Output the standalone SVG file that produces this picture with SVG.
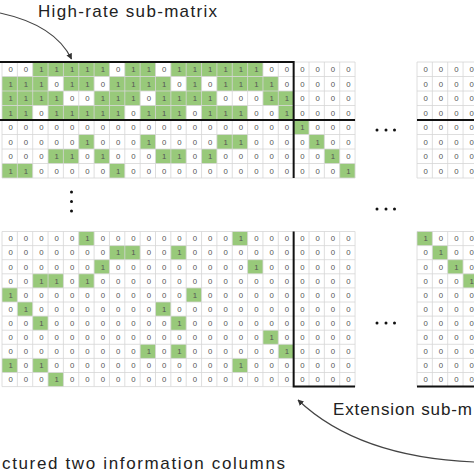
<svg xmlns="http://www.w3.org/2000/svg" width="474" height="474" viewBox="0 0 474 474">
<style>
.bg{fill:#ffffff}
.grid{fill:none;stroke:#d6d6d6;stroke-width:0.8}
.g{fill:#98c97a}
.thick{fill:none;stroke:#111;stroke-width:2}
.c{font-family:"Liberation Sans",Arial,sans-serif;font-size:7.8px;fill:#555;text-anchor:middle}
.lbl{font-family:"Liberation Sans",Arial,sans-serif;font-size:17px;fill:#222}
.arr{fill:none;stroke:#444;stroke-width:1.2}
.dot{fill:#111}
</style>
<defs>
<marker id="ah" viewBox="0 0 10 10" refX="9" refY="5" markerWidth="6" markerHeight="6" orient="auto" markerUnits="userSpaceOnUse">
<path d="M0 0L10 5L0 10z" fill="#333"/>
</marker>
</defs>
<rect class="bg" x="0" y="0" width="474" height="474"/>

<g id="green-cells">
<rect class="g" x="32.7" y="62" width="76.75" height="14.5"/>
<rect class="g" x="124.8" y="62" width="30.7" height="14.5"/>
<rect class="g" x="170.85" y="62" width="92.1" height="14.5"/>
<rect class="g" x="2" y="76.5" width="46.05" height="14.5"/>
<rect class="g" x="63.4" y="76.5" width="30.7" height="14.5"/>
<rect class="g" x="109.45" y="76.5" width="61.4" height="14.5"/>
<rect class="g" x="186.2" y="76.5" width="15.35" height="14.5"/>
<rect class="g" x="216.9" y="76.5" width="61.4" height="14.5"/>
<rect class="g" x="2" y="91" width="61.4" height="14.5"/>
<rect class="g" x="94.1" y="91" width="46.05" height="14.5"/>
<rect class="g" x="155.5" y="91" width="61.4" height="14.5"/>
<rect class="g" x="262.95" y="91" width="30.7" height="14.5"/>
<rect class="g" x="2" y="105.5" width="30.7" height="14.5"/>
<rect class="g" x="48.05" y="105.5" width="76.75" height="14.5"/>
<rect class="g" x="140.15" y="105.5" width="46.05" height="14.5"/>
<rect class="g" x="201.55" y="105.5" width="46.05" height="14.5"/>
<rect class="g" x="278.3" y="105.5" width="15.35" height="14.5"/>
<rect class="g" x="293.65" y="120" width="15.35" height="14.5"/>
<rect class="g" x="78.75" y="134.5" width="15.35" height="14.5"/>
<rect class="g" x="140.15" y="134.5" width="15.35" height="14.5"/>
<rect class="g" x="216.9" y="134.5" width="30.7" height="14.5"/>
<rect class="g" x="309" y="134.5" width="15.35" height="14.5"/>
<rect class="g" x="48.05" y="149" width="30.7" height="14.5"/>
<rect class="g" x="94.1" y="149" width="15.35" height="14.5"/>
<rect class="g" x="155.5" y="149" width="30.7" height="14.5"/>
<rect class="g" x="201.55" y="149" width="15.35" height="14.5"/>
<rect class="g" x="324.35" y="149" width="15.35" height="14.5"/>
<rect class="g" x="2" y="163.5" width="30.7" height="14.5"/>
<rect class="g" x="109.45" y="163.5" width="15.35" height="14.5"/>
<rect class="g" x="339.7" y="163.5" width="15.35" height="14.5"/>

<rect class="g" x="78.75" y="231.5" width="15.35" height="14.1"/>
<rect class="g" x="232.25" y="231.5" width="15.35" height="14.1"/>
<rect class="g" x="417" y="231.5" width="15.35" height="14.1"/>
<rect class="g" x="109.45" y="245.6" width="30.7" height="14.1"/>
<rect class="g" x="170.85" y="245.6" width="15.35" height="14.1"/>
<rect class="g" x="432.35" y="245.6" width="15.35" height="14.1"/>
<rect class="g" x="94.1" y="259.7" width="15.35" height="14.1"/>
<rect class="g" x="247.6" y="259.7" width="15.35" height="14.1"/>
<rect class="g" x="447.7" y="259.7" width="15.35" height="14.1"/>
<rect class="g" x="32.7" y="273.8" width="30.7" height="14.1"/>
<rect class="g" x="78.75" y="273.8" width="15.35" height="14.1"/>
<rect class="g" x="463.05" y="273.8" width="15.35" height="14.1"/>
<rect class="g" x="2" y="287.9" width="15.35" height="14.1"/>
<rect class="g" x="186.2" y="287.9" width="15.35" height="14.1"/>
<rect class="g" x="17.35" y="302" width="15.35" height="14.1"/>
<rect class="g" x="155.5" y="302" width="15.35" height="14.1"/>
<rect class="g" x="32.7" y="316.1" width="15.35" height="14.1"/>
<rect class="g" x="170.85" y="316.1" width="15.35" height="14.1"/>
<rect class="g" x="262.95" y="330.2" width="15.35" height="14.1"/>
<rect class="g" x="140.15" y="344.3" width="15.35" height="14.1"/>
<rect class="g" x="170.85" y="344.3" width="15.35" height="14.1"/>
<rect class="g" x="278.3" y="344.3" width="15.35" height="14.1"/>
<rect class="g" x="2" y="358.4" width="15.35" height="14.1"/>
<rect class="g" x="32.7" y="358.4" width="15.35" height="14.1"/>
<rect class="g" x="232.25" y="358.4" width="15.35" height="14.1"/>
<rect class="g" x="48.05" y="372.5" width="15.35" height="14.1"/>
</g>

<g id="grid-lines">
<path class="grid" d="M2 62v116M17.35 62v116M32.7 62v116M48.05 62v116M63.4 62v116M78.75 62v116M94.1 62v116M109.45 62v116M124.8 62v116M140.15 62v116M155.5 62v116M170.85 62v116M186.2 62v116M201.55 62v116M216.9 62v116M232.25 62v116M247.6 62v116M262.95 62v116M278.3 62v116M293.65 62v116M309 62v116M324.35 62v116M339.7 62v116M355.05 62v116M2 62H355.05M2 76.5H355.05M2 91H355.05M2 105.5H355.05M2 120H355.05M2 134.5H355.05M2 149H355.05M2 163.5H355.05M2 178H355.05"/>
<path class="grid" d="M417 62v116M432.35 62v116M447.7 62v116M463.05 62v116M417 62H474M417 76.5H474M417 91H474M417 105.5H474M417 120H474M417 134.5H474M417 149H474M417 163.5H474M417 178H474"/>
<path class="grid" d="M2 231.5v155.1M17.35 231.5v155.1M32.7 231.5v155.1M48.05 231.5v155.1M63.4 231.5v155.1M78.75 231.5v155.1M94.1 231.5v155.1M109.45 231.5v155.1M124.8 231.5v155.1M140.15 231.5v155.1M155.5 231.5v155.1M170.85 231.5v155.1M186.2 231.5v155.1M201.55 231.5v155.1M216.9 231.5v155.1M232.25 231.5v155.1M247.6 231.5v155.1M262.95 231.5v155.1M278.3 231.5v155.1M293.65 231.5v155.1M309 231.5v155.1M324.35 231.5v155.1M339.7 231.5v155.1M355.05 231.5v155.1M2 231.5H355.05M2 245.6H355.05M2 259.7H355.05M2 273.8H355.05M2 287.9H355.05M2 302H355.05M2 316.1H355.05M2 330.2H355.05M2 344.3H355.05M2 358.4H355.05M2 372.5H355.05M2 386.6H355.05"/>
<path class="grid" d="M417 231.5v155.1M432.35 231.5v155.1M447.7 231.5v155.1M463.05 231.5v155.1M417 231.5H474M417 245.6H474M417 259.7H474M417 273.8H474M417 287.9H474M417 302H474M417 316.1H474M417 330.2H474M417 344.3H474M417 358.4H474M417 372.5H474M417 386.6H474"/>
</g>

<g id="cell-values">
<text class="c" x="10.7 26 41.4 56.7 72.1 87.4 102.8 118.1 133.5 148.8 164.2 179.5 194.9 210.2 225.6 240.9 256.3 271.6 287 302.3 317.7 333 348.4" y="72">00111110110111111000000</text>
<text class="c" x="10.7 26 41.4 56.7 72.1 87.4 102.8 118.1 133.5 148.8 164.2 179.5 194.9 210.2 225.6 240.9 256.3 271.6 287 302.3 317.7 333 348.4" y="86.5">11101101111010111100000</text>
<text class="c" x="10.7 26 41.4 56.7 72.1 87.4 102.8 118.1 133.5 148.8 164.2 179.5 194.9 210.2 225.6 240.9 256.3 271.6 287 302.3 317.7 333 348.4" y="101">11110011101111000110000</text>
<text class="c" x="10.7 26 41.4 56.7 72.1 87.4 102.8 118.1 133.5 148.8 164.2 179.5 194.9 210.2 225.6 240.9 256.3 271.6 287 302.3 317.7 333 348.4" y="115.5">11011111011101110010000</text>
<text class="c" x="10.7 26 41.4 56.7 72.1 87.4 102.8 118.1 133.5 148.8 164.2 179.5 194.9 210.2 225.6 240.9 256.3 271.6 287 302.3 317.7 333 348.4" y="130">00000000000000000001000</text>
<text class="c" x="10.7 26 41.4 56.7 72.1 87.4 102.8 118.1 133.5 148.8 164.2 179.5 194.9 210.2 225.6 240.9 256.3 271.6 287 302.3 317.7 333 348.4" y="144.5">00000100010000110000100</text>
<text class="c" x="10.7 26 41.4 56.7 72.1 87.4 102.8 118.1 133.5 148.8 164.2 179.5 194.9 210.2 225.6 240.9 256.3 271.6 287 302.3 317.7 333 348.4" y="159">00011010001101000000010</text>
<text class="c" x="10.7 26 41.4 56.7 72.1 87.4 102.8 118.1 133.5 148.8 164.2 179.5 194.9 210.2 225.6 240.9 256.3 271.6 287 302.3 317.7 333 348.4" y="173.5">11000001000000000000001</text>

<text class="c" x="425.7 441 456.4 471.7" y="72">0000</text>
<text class="c" x="425.7 441 456.4 471.7" y="86.5">0000</text>
<text class="c" x="425.7 441 456.4 471.7" y="101">0000</text>
<text class="c" x="425.7 441 456.4 471.7" y="115.5">0000</text>
<text class="c" x="425.7 441 456.4 471.7" y="130">0000</text>
<text class="c" x="425.7 441 456.4 471.7" y="144.5">0000</text>
<text class="c" x="425.7 441 456.4 471.7" y="159">0000</text>
<text class="c" x="425.7 441 456.4 471.7" y="173.5">0000</text>

<text class="c" x="10.7 26 41.4 56.7 72.1 87.4 102.8 118.1 133.5 148.8 164.2 179.5 194.9 210.2 225.6 240.9 256.3 271.6 287 302.3 317.7 333 348.4" y="241.3">00000100000000010000000</text>
<text class="c" x="10.7 26 41.4 56.7 72.1 87.4 102.8 118.1 133.5 148.8 164.2 179.5 194.9 210.2 225.6 240.9 256.3 271.6 287 302.3 317.7 333 348.4" y="255.4">00000001100100000000000</text>
<text class="c" x="10.7 26 41.4 56.7 72.1 87.4 102.8 118.1 133.5 148.8 164.2 179.5 194.9 210.2 225.6 240.9 256.3 271.6 287 302.3 317.7 333 348.4" y="269.5">00000010000000001000000</text>
<text class="c" x="10.7 26 41.4 56.7 72.1 87.4 102.8 118.1 133.5 148.8 164.2 179.5 194.9 210.2 225.6 240.9 256.3 271.6 287 302.3 317.7 333 348.4" y="283.6">00110100000000000000000</text>
<text class="c" x="10.7 26 41.4 56.7 72.1 87.4 102.8 118.1 133.5 148.8 164.2 179.5 194.9 210.2 225.6 240.9 256.3 271.6 287 302.3 317.7 333 348.4" y="297.7">10000000000010000000000</text>
<text class="c" x="10.7 26 41.4 56.7 72.1 87.4 102.8 118.1 133.5 148.8 164.2 179.5 194.9 210.2 225.6 240.9 256.3 271.6 287 302.3 317.7 333 348.4" y="311.8">01000000001000000000000</text>
<text class="c" x="10.7 26 41.4 56.7 72.1 87.4 102.8 118.1 133.5 148.8 164.2 179.5 194.9 210.2 225.6 240.9 256.3 271.6 287 302.3 317.7 333 348.4" y="325.9">00100000000100000000000</text>
<text class="c" x="10.7 26 41.4 56.7 72.1 87.4 102.8 118.1 133.5 148.8 164.2 179.5 194.9 210.2 225.6 240.9 256.3 271.6 287 302.3 317.7 333 348.4" y="340">00000000000000000100000</text>
<text class="c" x="10.7 26 41.4 56.7 72.1 87.4 102.8 118.1 133.5 148.8 164.2 179.5 194.9 210.2 225.6 240.9 256.3 271.6 287 302.3 317.7 333 348.4" y="354.1">00000000010100000010000</text>
<text class="c" x="10.7 26 41.4 56.7 72.1 87.4 102.8 118.1 133.5 148.8 164.2 179.5 194.9 210.2 225.6 240.9 256.3 271.6 287 302.3 317.7 333 348.4" y="368.2">10100000000000010000000</text>
<text class="c" x="10.7 26 41.4 56.7 72.1 87.4 102.8 118.1 133.5 148.8 164.2 179.5 194.9 210.2 225.6 240.9 256.3 271.6 287 302.3 317.7 333 348.4" y="382.3">00010000000000000000000</text>

<text class="c" x="425.7 441 456.4 471.7" y="241.3">1000</text>
<text class="c" x="425.7 441 456.4 471.7" y="255.4">0100</text>
<text class="c" x="425.7 441 456.4 471.7" y="269.5">0010</text>
<text class="c" x="425.7 441 456.4 471.7" y="283.6">0001</text>
<text class="c" x="425.7 441 456.4 471.7" y="297.7">0000</text>
<text class="c" x="425.7 441 456.4 471.7" y="311.8">0000</text>
<text class="c" x="425.7 441 456.4 471.7" y="325.9">0000</text>
<text class="c" x="425.7 441 456.4 471.7" y="340">0000</text>
<text class="c" x="425.7 441 456.4 471.7" y="354.1">0000</text>
<text class="c" x="425.7 441 456.4 471.7" y="368.2">0000</text>
<text class="c" x="425.7 441 456.4 471.7" y="382.3">0000</text>
</g>

<g id="sub-matrix-borders">
<path class="thick" d="M0 62H293.65V178"/>
<path class="thick" d="M0 120H355.05"/>
<path class="thick" d="M417 120H474"/>
<path class="thick" d="M293.65 231.5V386.6H355.05"/>
<path class="thick" d="M417 386.6H474"/>
</g>

<g id="ellipses">
<circle class="dot" cx="377" cy="130" r="1.5"/><circle class="dot" cx="386" cy="130" r="1.5"/><circle class="dot" cx="394.5" cy="130" r="1.5"/>
<circle class="dot" cx="377" cy="209" r="1.5"/><circle class="dot" cx="386" cy="209" r="1.5"/><circle class="dot" cx="394.5" cy="209" r="1.5"/>
<circle class="dot" cx="377" cy="323" r="1.5"/><circle class="dot" cx="386" cy="323" r="1.5"/><circle class="dot" cx="394.5" cy="323" r="1.5"/>
<circle class="dot" cx="71.5" cy="192" r="1.5"/><circle class="dot" cx="71.5" cy="201.5" r="1.5"/><circle class="dot" cx="71.5" cy="211" r="1.5"/>
</g>

<g id="connectors">
<path class="arr" d="M0 13Q55 25 71.5 59" marker-end="url(#ah)"/>
<path class="arr" d="M474 462Q358 457 298 400" marker-end="url(#ah)"/>
</g>

<g id="label-high-rate">
<text class="lbl" x="38" y="16.5" textLength="179" lengthAdjust="spacing">High-rate sub-matrix</text>
</g>
<g id="label-extension">
<text class="lbl" x="333" y="415" textLength="139" lengthAdjust="spacing">Extension sub-m</text>
</g>
<g id="label-punctured">
<text class="lbl" x="2" y="469" textLength="283" lengthAdjust="spacing">ctured two information columns</text>
</g>
</svg>
